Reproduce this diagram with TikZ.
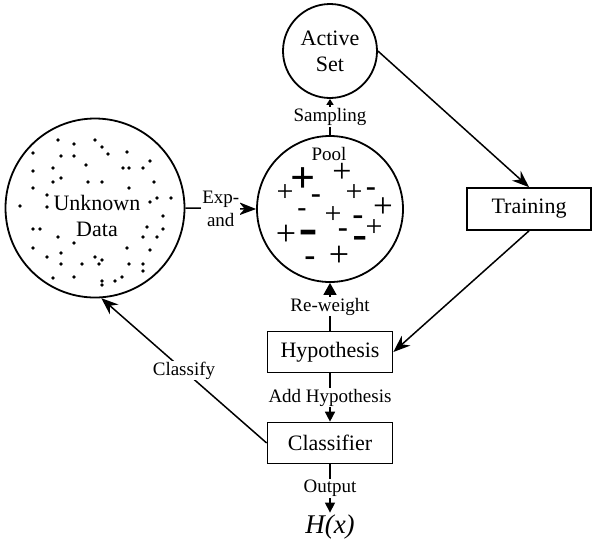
\documentclass[tikz,border=0pt]{standalone}
\usepackage{fontspec}
\setmainfont{Liberation Serif}
\newfontfamily\symsans{Liberation Sans}
\usetikzlibrary{arrows.meta}
\newcommand\pls[4]{\node[inner sep=0pt, font=\fontsize{#1}{#1}\selectfont] (#4) at (#2,#3) {+};}
\newcommand\bpls[4]{\node[inner sep=0pt, font=\fontsize{#1}{#1}\selectfont\bfseries] (#4) at (#2,#3) {+};}
\newcommand\mns[4]{\node[inner sep=0pt, font=\fontsize{#1}{#1}\selectfont\symsans] (#4) at (#2,{#3+0.094*#1}) {-};}
\begin{document}
\begin{tikzpicture}[x=1pt,y=-1pt,
  circ/.style={circle, draw, line width=1.8pt, inner sep=0pt, align=center,
    font=\fontsize{22}{26}\selectfont},
  boxn/.style={draw, line width=1.7pt, minimum width=125pt, minimum height=41pt,
    inner sep=0pt, font=\fontsize{22}{26}\selectfont},
  txt/.style={inner sep=0pt, align=center, font=\fontsize{22}{26}\selectfont},
  lbl/.style={fill=white, inner sep=1pt, align=center, font=\fontsize{19}{23}\selectfont},
  conn/.style={line width=1.5pt},
  stl/.style={conn, -{Stealth[length=17pt, width=13pt]}},
  tri/.style={conn, -{Triangle[length=10pt, width=10pt]}},
]
\useasboundingbox (0,0) rectangle (596,558);

% main nodes
\node[circ, minimum size=179pt] (ud) at (95,208) {};
\node[txt] (udt) at (97,216) {Unknown\\Data};
\node[circ, minimum size=146pt] (pool) at (330,209) {};
\node[inner sep=0pt, font=\fontsize{19}{23}\selectfont] (poolt) at (329,154) {Pool};
\node[circ, minimum size=94pt] (act) at (330,51) {Active\\Set};
\node[boxn, minimum width=124pt, minimum height=42pt] (train) at (529,209) {Training};
\node[boxn] (hyp) at (330,352) {Hypothesis};
\node[boxn] (cls) at (330,443) {Classifier};
\node[inner sep=2pt, font=\fontsize{27}{30}\selectfont\itshape] (hx) at (330,527) {H(x)};

% dots of unknown data
\foreach \p in {(58,140),(74,144),(95,140),(102,147),(33,153),(61,156),(74,156),(108,154),
  (127,152),(150,161),(33,171),(53,168),(86,165),(123,168),(129,168),(143,168),
  (53,182),(61,178),(88,182),(102,182),(154,182),(33,188),(129,188),(47,195),
  (47,207),(20,206),(150,202),(157,198),(171,198),(163,216),(33,229),(40,229),
  (147,227),(163,229),(143,237),(157,237),(58,237),(74,243),(33,248),(127,248),
  (150,250),(61,253),(47,257),(95,257),(102,260),(99,264),(61,264),(82,264),
  (129,264),(143,264),(143,271),(53,278),(74,277),(102,281),(102,285),(115,281),(122,277)}
  \fill \p circle (1.8pt);

% pool contents
\bpls{44}{303}{180}{p1}
\pls{34}{342}{173}{p2}
\pls{30}{285}{193}{p3}
\pls{30}{354}{193}{p4}
\pls{35}{383}{208}{p5}
\pls{30}{333}{215}{p6}
\pls{36}{286}{235}{p7}
\pls{30}{374}{228}{p8}
\pls{36}{339}{256}{p9}
\mns{32}{316}{197}{m1}
\mns{32}{371}{190}{m2}
\mns{29}{302}{210}{m3}
\mns{35}{358}{218}{m4}
\mns{60}{308}{234}{m5}
\mns{32}{343}{231}{m6}
\mns{46}{360}{239}{m7}
\mns{35}{310}{259}{m8}

% connectors
\draw[conn, -{Triangle[length=6pt, width=7pt]}] (pool.north) -- node[lbl] {Sampling} (act.south);
\draw[stl] (act.east) -- (train.north);
\draw[stl] (train.south) -- (hyp.east);
\draw[tri, -{Triangle[length=12pt, width=13pt]}] (hyp.north) -- node[lbl] {Re-weight} (pool.south);
\draw[tri] (hyp.south) -- node[lbl] {Add Hypothesis} (cls.north);
\draw[tri] (cls.south) -- node[lbl] {Output} (hx.north);
\draw[stl] (ud.east) -- node[lbl] {Exp-\\and} (pool.west);
\draw[stl] (cls.west) -- node[lbl] {Classify} (ud.-86);
\end{tikzpicture}
\end{document}
